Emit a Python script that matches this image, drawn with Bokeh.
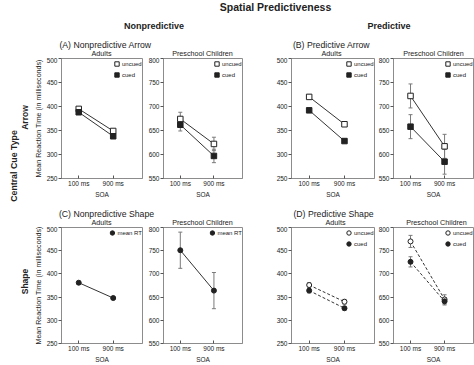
import math
from bokeh.plotting import figure
from bokeh.models import (Range1d, FixedTicker, Label, Legend, LegendItem,
                          Whisker, TeeHead, ColumnDataSource)
from bokeh.layouts import row, column
from bokeh.embed import file_html
from bokeh.resources import INLINE

FONT = "Liberation Sans"
INK = "#222222"
FRAME = "#8c8c8c"
ERR = "#7a7a7a"
LINE = "#333333"

# ---------------- data ----------------
soa_x = [1, 2]
soa_labels = ["100 ms", "900 ms"]
adult_yticks = [250, 300, 350, 400, 450, 500]
child_yticks = [550, 600, 650, 700, 750, 800]

a_adult_uncued = [395, 349]
a_adult_uncued_err = [3, 3]
a_adult_cued = [388, 338]
a_adult_cued_err = [3, 3]
a_child_uncued = [674, 622]
a_child_uncued_err = [14, 14]
a_child_cued = [662, 597]
a_child_cued_err = [13, 14]

b_adult_uncued = [420, 363]
b_adult_uncued_err = [4, 4]
b_adult_cued = [392, 328]
b_adult_cued_err = [4, 4]
b_child_uncued = [722, 617]
b_child_uncued_err = [25, 25]
b_child_cued = [658, 585]
b_child_cued_err = [25, 26]

c_adult_mean = [381, 348]
c_adult_mean_err = [3, 3]
c_child_mean = [751, 664]
c_child_mean_err = [39, 39]

d_adult_uncued = [376, 340]
d_adult_uncued_err = [5, 5]
d_adult_cued = [364, 326]
d_adult_cued_err = [5, 4]
d_child_uncued = [770, 645]
d_child_uncued_err = [13, 10]
d_child_cued = [726, 641]
d_child_cued_err = [11, 8]

# ---------------- layout constants ----------------
LEFT_W = 30
COL_W = [115, 105, 125, 99]
COL_BL = [31, 16, 41, 16]
COL_BR = [3, 8, 1, 1]
TOP_H = 57
ROW1_H, ROW1_BT, ROW1_BB = 143, 1, 19
MID_H = 26
ROW2_H, ROW2_BT, ROW2_BB = 139, 1, 17


def text_strip(width, height, x0, x1, y0, y1):
    p = figure(width=width, height=height, x_range=Range1d(x0, x1),
               y_range=Range1d(y1, y0), x_axis_location=None,
               y_axis_location=None, output_backend="svg",
               toolbar_location=None, min_border=0)
    p.grid.visible = False
    p.outline_line_color = None
    return p


def add_text(p, x, y, txt, size, bold=False, angle=0.0):
    p.add_layout(Label(x=x, y=y, text=txt, text_font=FONT,
                       text_font_size=f"{size}px",
                       text_font_style="bold" if bold else "normal",
                       text_align="center", text_baseline="middle",
                       text_color=INK, angle=angle))


def panel(ci, height, bt, bb, yticks, series, marker, dash, msize, ylabel=None):
    p = figure(width=COL_W[ci], height=height,
               x_range=Range1d(0.5, 2.85),
               y_range=Range1d(yticks[0], yticks[-1]),
               output_backend="svg", toolbar_location=None,
               min_border_left=COL_BL[ci], min_border_right=COL_BR[ci],
               min_border_top=bt, min_border_bottom=bb)
    p.grid.visible = False
    p.outline_line_color = FRAME
    p.outline_line_width = 1
    items = []
    for label, vals, errs, filled in series:
        src = ColumnDataSource(dict(
            x=soa_x, y=vals,
            lo=[v - e for v, e in zip(vals, errs)],
            hi=[v + e for v, e in zip(vals, errs)]))
        w = Whisker(base="x", lower="lo", upper="hi", source=src,
                    line_color=ERR, line_width=1, level="underlay",
                    upper_head=TeeHead(size=4, line_color=ERR, line_width=1),
                    lower_head=TeeHead(size=4, line_color=ERR, line_width=1))
        p.add_layout(w)
        p.line("x", "y", source=src, line_color=LINE, line_width=1,
               line_dash=dash)
        r = p.scatter("x", "y", source=src, marker=marker, size=msize,
                      fill_color=INK if filled else "white",
                      line_color=INK, line_width=1)
        items.append(LegendItem(label=label, renderers=[r]))
    lg = Legend(items=items, location="top_right", margin=0, padding=1,
                spacing=-4, glyph_width=11, glyph_height=11,
                label_height=7, label_standoff=-2,
                label_text_font=FONT, label_text_font_size="6px",
                label_text_color=INK, background_fill_alpha=0,
                border_line_color=None)
    p.add_layout(lg)

    xa = p.xaxis[0]
    xa.ticker = FixedTicker(ticks=soa_x)
    xa.major_label_overrides = dict(zip(soa_x, soa_labels))
    xa.major_tick_in = 3
    xa.major_tick_out = 0
    xa.minor_tick_line_color = None
    xa.axis_line_color = FRAME
    xa.major_tick_line_color = "#555555"
    xa.major_label_text_font = FONT
    xa.major_label_text_font_size = "6.5px"
    xa.major_label_text_color = INK
    xa.major_label_standoff = 1
    xa.axis_label = "SOA"
    xa.axis_label_text_font = FONT
    xa.axis_label_text_font_size = "6.5px"
    xa.axis_label_text_font_style = "normal"
    xa.axis_label_text_color = INK
    xa.axis_label_standoff = 1

    ya = p.yaxis[0]
    ya.ticker = FixedTicker(ticks=yticks)
    ya.major_tick_in = 0
    ya.major_tick_out = 3
    ya.minor_tick_line_color = None
    ya.axis_line_color = FRAME
    ya.major_tick_line_color = "#555555"
    ya.major_label_text_font = FONT
    ya.major_label_text_font_size = "6.5px"
    ya.major_label_text_color = INK
    ya.major_label_standoff = 1
    if ylabel:
        ya.axis_label = ylabel
        ya.axis_label_text_font = FONT
        ya.axis_label_text_font_size = "7.1px"
        ya.axis_label_text_font_style = "normal"
        ya.axis_label_text_color = INK
        ya.axis_label_standoff = 1
    return p


YLAB = "Mean Reaction Time (in milliseconds)"

pA1 = panel(0, ROW1_H, ROW1_BT, ROW1_BB, adult_yticks,
            [("uncued", a_adult_uncued, a_adult_uncued_err, False),
             ("cued", a_adult_cued, a_adult_cued_err, True)],
            "square", "solid", 5.5, YLAB)
pA2 = panel(1, ROW1_H, ROW1_BT, ROW1_BB, child_yticks,
            [("uncued", a_child_uncued, a_child_uncued_err, False),
             ("cued", a_child_cued, a_child_cued_err, True)],
            "square", "solid", 5.5)
pB1 = panel(2, ROW1_H, ROW1_BT, ROW1_BB, adult_yticks,
            [("uncued", b_adult_uncued, b_adult_uncued_err, False),
             ("cued", b_adult_cued, b_adult_cued_err, True)],
            "square", "solid", 5.5)
pB2 = panel(3, ROW1_H, ROW1_BT, ROW1_BB, child_yticks,
            [("uncued", b_child_uncued, b_child_uncued_err, False),
             ("cued", b_child_cued, b_child_cued_err, True)],
            "square", "solid", 5.5)

pC1 = panel(0, ROW2_H, ROW2_BT, ROW2_BB, adult_yticks,
            [("mean RT", c_adult_mean, c_adult_mean_err, True)],
            "circle", "solid", 5, YLAB)
pC2 = panel(1, ROW2_H, ROW2_BT, ROW2_BB, child_yticks,
            [("mean RT", c_child_mean, c_child_mean_err, True)],
            "circle", "solid", 5)
pD1 = panel(2, ROW2_H, ROW2_BT, ROW2_BB, adult_yticks,
            [("uncued", d_adult_uncued, d_adult_uncued_err, False),
             ("cued", d_adult_cued, d_adult_cued_err, True)],
            "circle", "3 2", 5)
pD2 = panel(3, ROW2_H, ROW2_BT, ROW2_BB, child_yticks,
            [("uncued", d_child_uncued, d_child_uncued_err, False),
             ("cued", d_child_cued, d_child_cued_err, True)],
            "circle", "3 2", 5)

# header strips (page pixel coordinates)
top = text_strip(444, TOP_H, 30, 474, 0, 57)
add_text(top, 275, 6.5, "Spatial Predictiveness", 10.5, bold=True)
add_text(top, 153.5, 25.5, "Nonpredictive", 9, bold=True)
add_text(top, 388.5, 25.5, "Predictive", 9, bold=True)
add_text(top, 105, 44, "(A) Nonpredictive Arrow", 8.7)
add_text(top, 331, 44, "(B) Predictive Arrow", 8.7)
add_text(top, 101, 52.5, "Adults", 7.2)
add_text(top, 202, 53, "Preschool Children", 7.2)
add_text(top, 331, 52.5, "Adults", 7.2)
add_text(top, 433, 53, "Preschool Children", 7.2)

mid = text_strip(444, MID_H, 30, 474, 200, 226)
add_text(mid, 106, 213, "(C) Nonpredictive Shape", 8.7)
add_text(mid, 333, 213, "(D) Predictive Shape", 8.7)
add_text(mid, 101, 222, "Adults", 7.2)
add_text(mid, 202, 222, "Preschool Children", 7.2)
add_text(mid, 335, 222, "Adults", 7.2)
add_text(mid, 436, 222, "Preschool Children", 7.2)

left = text_strip(LEFT_W, 365, 0, 30, 0, 365)
add_text(left, 13, 165.5, "Central Cue Type", 8.8, bold=True, angle=math.pi / 2)
add_text(left, 24, 117, "Arrow", 8.5, bold=True, angle=math.pi / 2)
add_text(left, 24, 281, "Shape", 8.5, bold=True, angle=math.pi / 2)

layout = row(left, column(top, row(pA1, pA2, pB1, pB2), mid,
                          row(pC1, pC2, pD1, pD2)))

open("out.html", "w").write(file_html(layout, INLINE))
